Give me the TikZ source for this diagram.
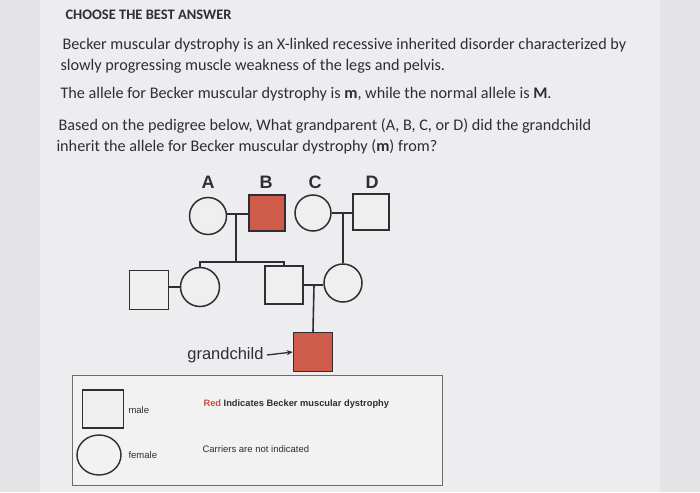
\documentclass[tikz,border=0pt]{standalone}
\usepackage{fontspec}
\setmainfont{Carlito}
\newfontfamily\arialf{Liberation Sans}
\usetikzlibrary{arrows.meta,shapes.geometric}
\definecolor{bg}{HTML}{E4E4E6}
\definecolor{aff}{HTML}{CF5B4B}
\definecolor{ink}{HTML}{2E2E33}
\definecolor{redt}{HTML}{D24A45}
\begin{document}
\begin{tikzpicture}[x=1pt,y=-1pt,
  male/.style={draw=ink,line width=1.5pt,inner sep=0pt,fill=white!40!bg},
  female/.style={draw=ink,line width=1.5pt,circle,inner sep=0pt,fill=white!40!bg},
  affected/.style={fill=aff},
  lnk/.style={draw=ink,line width=1.6pt},
  body/.style={anchor=west,text=ink,font=\fontsize{16.2}{19}\selectfont},
  lab/.style={text=ink,font=\arialf\bfseries\fontsize{18}{20}\selectfont}]
\fill[bg] (0,0) rectangle (700,492);
\fill[white!35!bg] (40,0) rectangle (660,492);
\node[anchor=west,text=ink,font=\bfseries\fontsize{14.5}{17}\selectfont] (h) at (62,15) {CHOOSE THE BEST ANSWER};
\node[body] (t1) at (59,45) {Becker muscular dystrophy is an X-linked recessive inherited disorder characterized by};
\node[body] (t2) at (57,66) {slowly progressing muscle weakness of the legs and pelvis.};
\node[body] (t3) at (57,94) {The allele for Becker muscular dystrophy is \textbf{m}, while the normal allele is \textbf{M}.};
\node[body] (t4) at (55,126) {Based on the pedigree below, What grandparent (A, B, C, or D) did the grandchild};
\node[body] (t5) at (53,147) {inherit the allele for Becker muscular dystrophy (\textbf{m}) from?};
% labels
\node[lab] (la) at (208,182) {A};
\node[lab] (lb) at (266,182) {B};
\node[lab] (lc) at (315,182) {C};
\node[lab] (ld) at (372,182) {D};
% gen1
\node[female,minimum size=37pt] (A) at (208,216) {};
\node[male,affected,minimum size=36pt] (B) at (267,213) {};
\node[female,minimum size=36pt] (C) at (313,213) {};
\node[male,minimum size=36pt] (D) at (371,212) {};
% gen2
\node[male,minimum size=39pt] (M1) at (149,290) {};
\node[female,minimum size=39pt] (F1) at (200,287) {};
\node[male,minimum size=38pt] (M2) at (284,285) {};
\node[female,minimum size=38pt] (F2) at (343,283) {};
% gen3
\node[male,affected,minimum size=39pt] (G) at (313,352) {};
\coordinate (ab) at (236,214);
\coordinate (cd) at (343,213);
\coordinate (sib) at (236,262);
\coordinate (mf) at (314,285);
\draw[lnk] (A.east |- ab) -- (B.west |- ab);
\draw[lnk] (C.east |- cd) -- (D.west |- cd);
\draw[lnk] (ab) -- (sib);
\draw[lnk] (F1.north) -- (F1.north |- sib) -- (M2.north |- sib) -- (M2.north);
\draw[lnk] (cd) -- (F2.north);
\draw[lnk] (M1.east |- F1.west) -- (F1.west);
\draw[lnk] (M2.east |- mf) -- (F2.west |- mf);
\draw[lnk] (mf) -- (G.north);
\node[anchor=east,text=ink,font=\arialf\fontsize{16.5}{18}\selectfont] (gc) at (267,355) {grandchild};
\draw[draw=ink,line width=1.3pt,-{Stealth[length=6pt,width=5pt]}] (gc.east) -- (G.west);
% legend
\node[draw=ink!70,line width=0.8pt,fill=white!50!bg,minimum width=370pt,minimum height=110pt,inner sep=0pt] (leg) at (257,430) {};
\node[male,line width=1.4pt,minimum width=41pt,minimum height=38pt] (lm) at (103,409) {};
\node[draw=ink,line width=1.4pt,ellipse,minimum width=44pt,minimum height=40pt,inner sep=0pt] (lf) at (99,455) {};
\node[anchor=west,text=ink,font=\arialf\fontsize{9.5}{11}\selectfont] (tm) at (125,410) {male};
\node[anchor=west,text=ink,font=\arialf\fontsize{9.5}{11}\selectfont] (tf) at (125,455) {female};
\node[anchor=west,text=ink,font=\arialf\bfseries\fontsize{9.3}{11}\selectfont] (tr) at (200,404) {\textcolor{redt}{Red} Indicates Becker muscular dystrophy};
\node[anchor=west,text=ink,font=\arialf\fontsize{9.5}{11}\selectfont] (tcar) at (199,449) {Carriers are not indicated};
\end{tikzpicture}
\end{document}
